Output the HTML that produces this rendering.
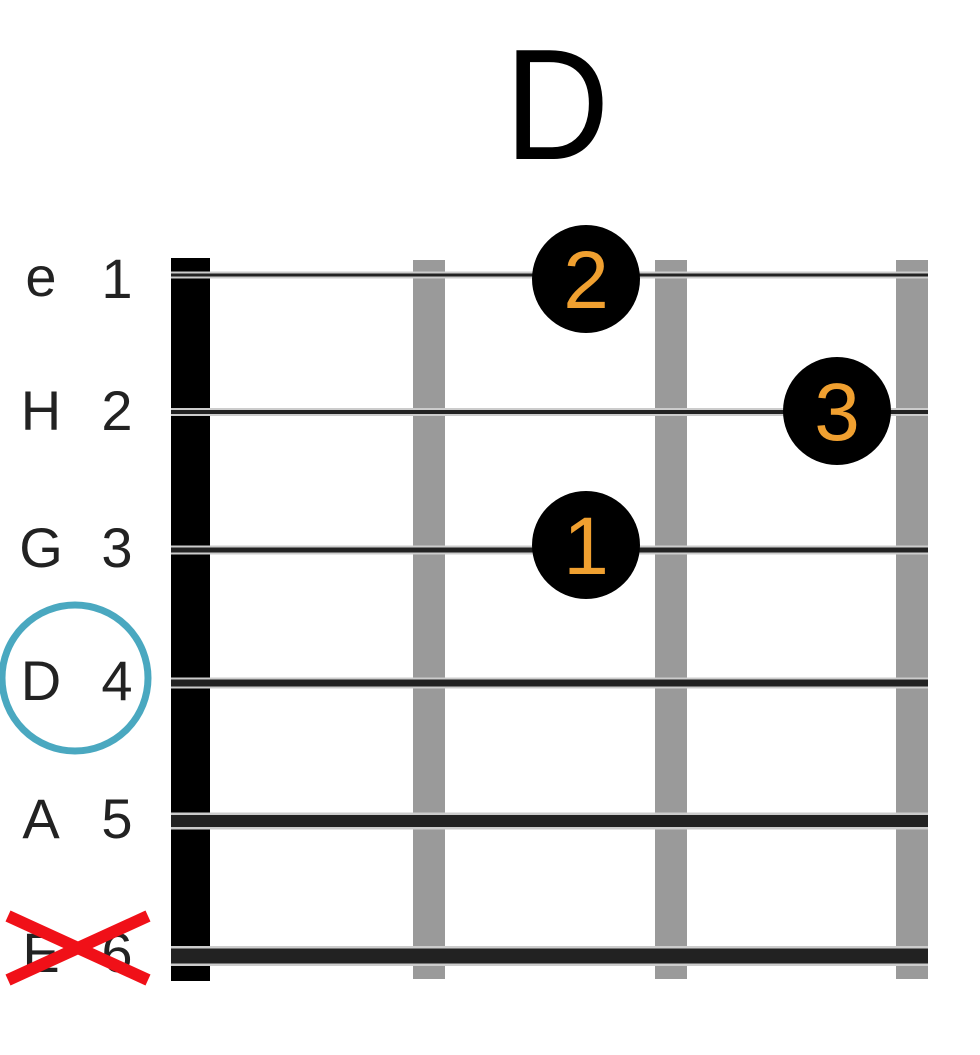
<!DOCTYPE html>
<html><head><style>
html,body{margin:0;padding:0;background:#fff;width:980px;height:1055px;overflow:hidden}
</style></head><body>
<svg width="980" height="1055" xmlns="http://www.w3.org/2000/svg" font-family="Liberation Sans, sans-serif">
<text x="557" y="159" font-size="158" text-anchor="middle" fill="#000" transform="translate(557 0) scale(0.92 1) translate(-557 0)">D</text>
<rect x="171" y="258" width="39" height="723" fill="#000"/>
<rect x="413" y="260" width="32" height="719" fill="#9a9a9a"/>
<rect x="655" y="260" width="32" height="719" fill="#9a9a9a"/>
<rect x="896" y="260" width="32" height="719" fill="#9a9a9a"/>
<g stroke="#ccc">
<line x1="171" x2="928" y1="275" y2="275" stroke-width="7"/>
<line x1="171" x2="928" y1="412" y2="412" stroke-width="8"/>
<line x1="171" x2="928" y1="550" y2="550" stroke-width="9"/>
<line x1="171" x2="928" y1="683" y2="683" stroke-width="11"/>
<line x1="171" x2="928" y1="821" y2="821" stroke-width="17"/>
<line x1="171" x2="928" y1="956" y2="956" stroke-width="20"/>
</g>
<g stroke="#222">
<line x1="171" x2="928" y1="275" y2="275" stroke-width="3"/>
<line x1="171" x2="928" y1="412" y2="412" stroke-width="4"/>
<line x1="171" x2="928" y1="550" y2="550" stroke-width="5"/>
<line x1="171" x2="928" y1="683" y2="683" stroke-width="7"/>
<line x1="171" x2="928" y1="821" y2="821" stroke-width="12"/>
<line x1="171" x2="928" y1="956" y2="956" stroke-width="15"/>
</g>
<g fill="#000"><circle cx="586" cy="279" r="54"/><circle cx="837" cy="411" r="54"/><circle cx="586" cy="545" r="54"/></g>
<g fill="#f0a030" font-size="82" text-anchor="middle">
<text x="586" y="308">2</text><text x="837" y="440">3</text><text x="586" y="574">1</text>
</g>
<g fill="#222" font-size="56" text-anchor="middle">
<text x="41" y="296">e</text><text x="117" y="298">1</text>
<text x="41" y="430">H</text><text x="117" y="430">2</text>
<text x="41" y="567">G</text><text x="117" y="567">3</text>
<text x="41" y="700">D</text><text x="117" y="700">4</text>
<text x="41" y="838">A</text><text x="117" y="838">5</text>
<text x="41" y="972">E</text><text x="117" y="972">6</text>
</g>
<circle cx="75" cy="678" r="73" fill="none" stroke="#4aa8c0" stroke-width="7"/>
<g stroke="#f01018" stroke-width="12"><line x1="8" y1="916" x2="148" y2="980"/><line x1="148" y1="916" x2="8" y2="980"/></g>
</svg>
</body></html>
